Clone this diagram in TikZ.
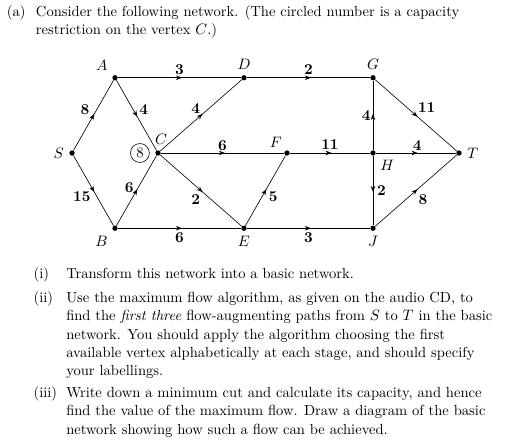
\documentclass[tikz,border=0pt]{standalone}
\usetikzlibrary{arrows.meta,decorations.markings}
\tikzset{
  vertex/.style={circle,fill,inner sep=0pt,minimum size=3.5pt},
  flow/.style={postaction={decorate},
    decoration={markings,mark=at position 0.52 with {\arrow{Stealth[length=4pt,width=3pt]}}}},
  capnum/.style={font=\bfseries,inner sep=0pt},
  para/.style={anchor=base west,inner sep=0pt},
}
\newcommand{\lines}[1]{\begin{tabular}[t]{@{}l@{}}#1\end{tabular}}
\begin{document}
\begin{tikzpicture}[font=\fontsize{9.65}{12.1}\selectfont]
    \useasboundingbox (-1.674,3.558) rectangle (10.163,-6.767);
    %% vertices
    \node[vertex,label=left:$S$] (S) at (0,0) {};
    \node[vertex,label=above left:$A$] (A) at (1,1.75) {};
    \node[vertex,label=below left:$B$] (B) at (1,-1.75) {};
    \node[vertex,label={[xshift=2pt]above:$C$}] (C) at (2,0) {};
    \node[vertex,label=above:$D$] (D) at (4,1.75) {};
    \node[vertex,label=below:$E$] (E) at (4,-1.75) {};
    \node[vertex,label={[label distance=-2pt]above left:$F$}] (F) at (5,0) {};
    \node[vertex,label=above:$G$] (G) at (7,1.75) {};
    \node[vertex,label=below right:$H$] (H) at (7,0) {};
    \node[vertex,label=below:$J$] (J) at (7,-1.75) {};
    \node[vertex,label=right:$T$] (T) at (9,0) {};
    %% vertex capacity on C
    \node[draw,circle,inner sep=0pt,minimum size=0.44cm] (Ccap) at (1.58,0) {8};
    %% edges
    \draw[flow] (S) -- (A) node[midway,capnum,shift={(-0.2,0.125)}] {8};
    \draw[flow] (S) -- (B) node[midway,capnum,shift={(-0.27,-0.14)}] {15};
    \draw[flow] (A) -- (C) node[midway,capnum,shift={(0.17,0.125)}] {4};
    \draw[flow] (B) -- (C) node[midway,capnum,shift={(-0.17,0.07)}] {6};
    \draw[flow] (A) -- (D) node[midway,capnum,shift={(0,0.2)}] {3};
    \draw[flow] (B) -- (E) node[midway,capnum,shift={(0,-0.22)}] {6};
    \draw[flow] (C) -- (D) node[midway,capnum,shift={(-0.12,0.16)}] {4};
    \draw[flow] (C) -- (F) node[midway,capnum,shift={(0,0.18)}] {6};
    \draw[flow] (C) -- (E) node[midway,capnum,shift={(-0.12,-0.2)}] {2};
    \draw[flow] (E) -- (F) node[midway,capnum,shift={(0.18,-0.14)}] {5};
    \draw[flow] (D) -- (G) node[midway,capnum,shift={(0,0.2)}] {2};
    \draw[flow] (F) -- (H) node[midway,capnum,shift={(0,0.19)}] {11};
    \draw[flow] (E) -- (J) node[midway,capnum,shift={(0,-0.22)}] {3};
    \draw[flow] (H) -- (G) node[midway,capnum,shift={(-0.16,0)}] {4};
    \draw[flow] (H) -- (J) node[midway,capnum,shift={(0.2,0)}] {2};
    \draw[flow] (G) -- (T) node[midway,capnum,shift={(0.25,0.18)}] {11};
    \draw[flow] (H) -- (T) node[midway,capnum,shift={(0.03,0.17)}] {4};
    \draw[flow] (J) -- (T) node[midway,capnum,shift={(0.16,-0.22)}] {8};
    %% question text
    \node[para] (alabel) at (-1.519,3.174) {(a)};
    \node[para] (atext) at (-0.844,3.174) {\lines{Consider the following network. (The circled number is a capacity\\
      restriction on the vertex $C$.)}};
    \node[para] (ilabel) at (-0.9,-2.919) {(i)};
    \node[para] (itext) at (-0.14,-2.919) {Transform this network into a basic network.};
    \node[para] (iilabel) at (-0.9,-3.477) {(ii)};
    \node[para] (iitext) at (-0.14,-3.477) {\lines{Use the maximum flow algorithm, as given on the audio CD, to\\
      find the \emph{first three} flow-augmenting paths from $S$ to $T$ in the basic\\
      network. You should apply the algorithm choosing the first\\
      available vertex alphabetically at each stage, and should specify\\
      your labellings.}};
    \node[para] (iiilabel) at (-0.9,-5.686) {(iii)};
    \node[para] (iiitext) at (-0.14,-5.686) {\lines{Write down a minimum cut and calculate its capacity, and hence\\
      find the value of the maximum flow. Draw a diagram of the basic\\
      network showing how such a flow can be achieved.}};
\end{tikzpicture}
\end{document}
